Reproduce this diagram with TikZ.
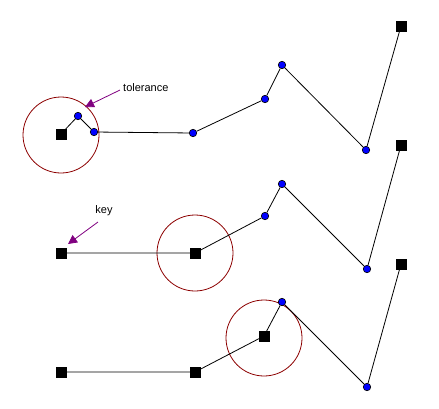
\documentclass[tikz,border=0pt]{standalone}
\usepackage{fontspec}
\setmainfont{Liberation Sans}
\usetikzlibrary{arrows.meta,backgrounds}
\definecolor{tolred}{RGB}{140,0,0}
\definecolor{arrpurple}{RGB}{128,0,128}
\definecolor{dotblue}{RGB}{0,0,255}
\tikzset{
  sq/.style={fill=black, draw=black, minimum size=10pt, inner sep=0pt, outer sep=0pt, rectangle},
  vtx/.style={circle, fill=dotblue, draw=black, line width=0.6pt, minimum size=7.5pt, inner sep=0pt},
  seg/.style={draw=black, line width=0.8pt},
  tol/.style={draw=tolred, line width=0.8pt},
  pointer/.style={draw=arrpurple, line width=0.8pt, -{Triangle[length=9pt,width=9pt]}, arrpurple},
  lbl/.style={font=\fontsize{11}{13}\selectfont, inner sep=0pt}
}
\begin{document}
\begin{tikzpicture}[x=1pt,y=-1pt]
\useasboundingbox (0,0) rectangle (439,408);
% row 1
\node[sq] (a1) at (61,134) {};
\node[vtx] (a2) at (78,116) {};
\node[vtx] (a3) at (94,132) {};
\node[vtx] (a4) at (193,133) {};
\node[vtx] (a5) at (265,99) {};
\node[vtx] (a6) at (282,65) {};
\node[vtx] (a7) at (366,150) {};
\node[sq] (a8) at (401,26) {};
\node[lbl, anchor=west] (tl) at (123,88) {tolerance};
\coordinate (tltip) at (85,107);
\draw[pointer] (120,90) -- (tltip);
% row 2
\node[sq] (b1) at (61,253) {};
\node[sq] (b2) at (195,253) {};
\node[vtx] (b3) at (265,216) {};
\node[vtx] (b4) at (282,184) {};
\node[vtx] (b5) at (367,269) {};
\node[sq] (b6) at (401,145) {};
\node[lbl] (kl) at (104,211) {key};
\coordinate (kltip) at (68,244);
\draw[pointer] (98,222) -- (kltip);
% row 3
\node[sq] (c1) at (61,372) {};
\node[sq] (c2) at (195,372) {};
\node[sq] (c3) at (264,336) {};
\node[vtx] (c4) at (282,302) {};
\node[vtx] (c5) at (367,387) {};
\node[sq] (c6) at (401,264) {};
\begin{scope}[on background layer]
\draw[tol] (a1) ++(0,1) circle (38);
\draw[tol] (b2) circle (38);
\draw[tol] (c3) ++(0,2) circle (38);
\draw[seg] (a1) -- (a2) -- (a3) -- (a4) -- (a5) -- (a6) -- (a7) -- (a8);
\draw[seg] (b1) -- (b2) -- (b3) -- (b4) -- (b5) -- (b6);
\draw[seg] (c1) -- (c2) -- (c3) -- (c4) -- (c5) -- (c6);
\end{scope}
\end{tikzpicture}
\end{document}
